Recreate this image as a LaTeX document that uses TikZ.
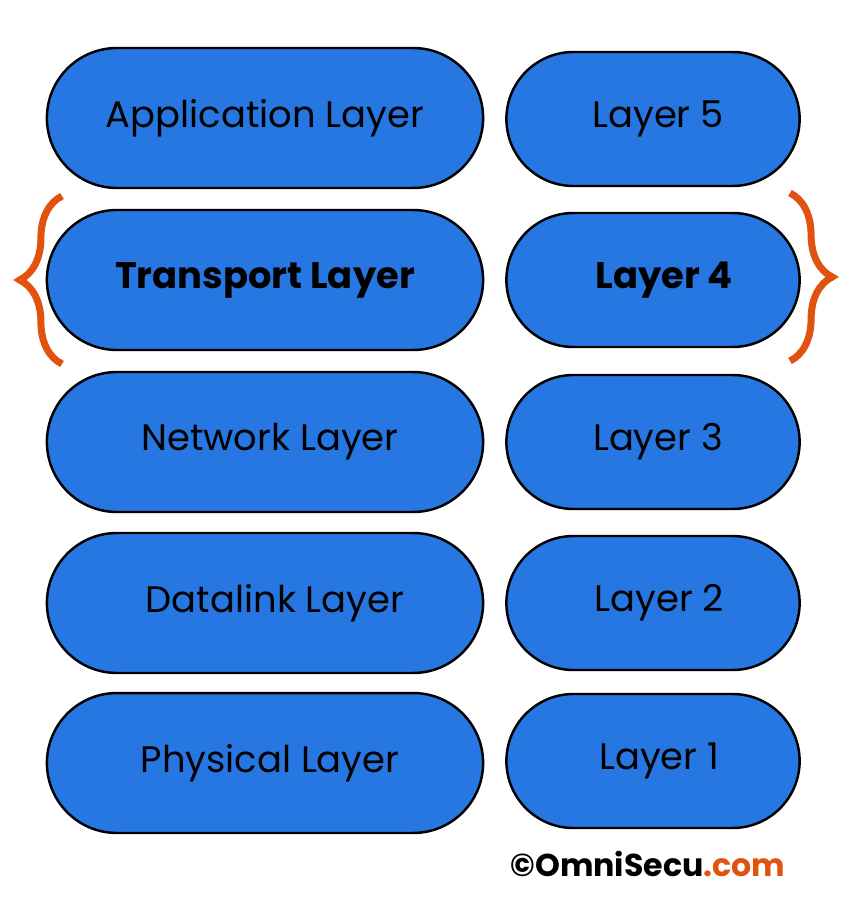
\documentclass[tikz,border=0pt]{standalone}
\usepackage{fontspec}
\setmainfont{Poppins}
\usetikzlibrary{shapes.misc,decorations.pathreplacing}
\definecolor{pillblue}{HTML}{2677E2}
\definecolor{braceorange}{HTML}{E0520F}
\tikzset{
  layer/.style={rounded rectangle, draw=black, line width=1.4pt, fill=pillblue,
    minimum width=8.96cm, minimum height=2.8cm, font=\fontsize{21}{25}\selectfont},
  num/.style={layer, minimum width=6.1cm, minimum height=2.68cm},
  brc/.style={draw=braceorange, line width=4pt, decorate,
    decoration={brace, amplitude=24pt}}
}
\begin{document}
\begin{tikzpicture}[x=0.02cm,y=-0.02cm]
  \useasboundingbox (0,0) rectangle (848,901);
  \node[layer] (app) at (265,118) {Application Layer};
  \node[layer] (trans) at (265,280) {\bfseries Transport Layer};
  \node[layer] (net) at (265,442) {\hspace{0.2cm}Network Layer};
  \node[layer] (dl) at (265,603) {\hspace{0.4cm}Datalink Layer};
  \node[layer] (phy) at (265,763) {\hspace{0.2cm}Physical Layer};
  \node[num] (l5) at (653,119) {\hspace{0.2cm}Layer 5};
  \node[num] (l4) at (653,280) {\hspace{0.45cm}\bfseries Layer 4};
  \node[num] (l3) at (653,442) {\hspace{0.2cm}Layer 3};
  \node[num] (l2) at (653,603) {\hspace{0.25cm}Layer 2};
  \node[num] (l1) at (653,761) {\hspace{0.25cm}Layer 1};
  % braces round the transport row
  \coordinate (lb1) at (62,196);
  \coordinate (lb2) at (62,364);
  \coordinate (rb1) at (790,193);
  \coordinate (rb2) at (790,361);
  \draw[brc] (lb2) -- (lb1);
  \draw[brc] (rb1) -- (rb2);
  \node[font=\fontsize{18}{22}\selectfont\bfseries] (credit) at (648,864)
    {\textcopyright OmniSecu\textcolor{braceorange}{.com}};
\end{tikzpicture}
\end{document}
